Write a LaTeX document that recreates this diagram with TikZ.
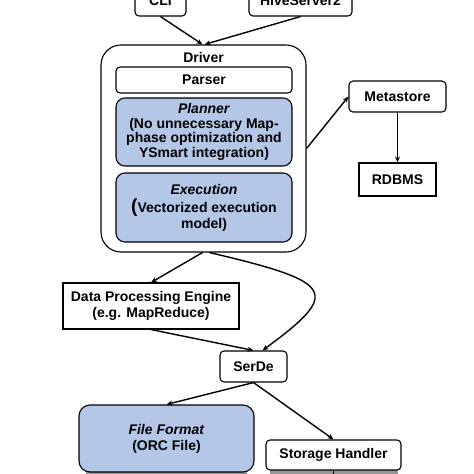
\documentclass[tikz,border=0pt]{standalone}
\usepackage{fontspec}
\setmainfont{Liberation Sans}
\usetikzlibrary{arrows.meta}
\definecolor{boxblue}{RGB}{180,199,231}
\definecolor{shadowgray}{RGB}{150,150,150}
\tikzset{
  box/.style={draw=black, line width=1.1bp, fill=white, rounded corners=4bp, inner sep=0pt, align=center,
    font=\bfseries\fontsize{14bp}{16bp}\selectfont},
  bluebox/.style={box, fill=boxblue, rounded corners=9bp},
  conn/.style={line width=1.4bp, -{Stealth[length=6bp,width=5bp]}},
}
\begin{document}
\begin{tikzpicture}[x=1bp,y=-1bp]
\useasboundingbox (0,0) rectangle (474,474);
% cropped bottom fragments
\fill[shadowgray] (86,471) rectangle (247,474);
\fill[shadowgray] (270,469) rectangle (398,474);
% nodes
\node[box, minimum width=51bp, minimum height=30bp] (cli) at (160.5,1) {CLI};
\node[box, minimum width=103bp, minimum height=30bp] (hs2) at (300.5,1) {HiveServer2};
\node[box, rounded corners=20bp, minimum width=205bp, minimum height=207bp] (driver) at (203.5,148.5) {};
\node[font=\bfseries\fontsize{14bp}{16bp}\selectfont, inner sep=0pt] (drvlabel) at (203.5,57) {Driver};
\node[box, minimum width=176bp, minimum height=26bp] (parser) at (204,80) {Parser};
\node[bluebox, minimum width=176bp, minimum height=68bp, font=\bfseries\fontsize{14bp}{14.8bp}\selectfont] (planner) at (204,132)
  {\textit{Planner}\\(No unnecessary Map-\\phase optimization and\\YSmart integration)};
\node[bluebox, minimum width=176bp, minimum height=69bp] (exec) at (204,207.5)
  {\textit{Execution}\\[2bp]{\fontsize{19bp}{19bp}\selectfont(}Vectorized execution\\model)};
\node[box, minimum width=97bp, minimum height=31bp] (meta) at (397.5,96.5) {Metastore};
\node[box, rounded corners=0pt, minimum width=77bp, minimum height=33bp] (rdbms) at (397.5,179.5) {RDBMS};
\node[box, rounded corners=0pt, minimum width=176bp, minimum height=46bp] (dpe) at (151,306)
  {Data Processing Engine\\(e.g. MapReduce)};
\node[box, minimum width=67bp, minimum height=31bp] (serde) at (253.5,366.5) {SerDe};
\node[bluebox, rounded corners=11bp, minimum width=175bp, minimum height=67bp] (ff) at (166.5,438.5)
  {\textit{File Format}\\(ORC File)};
\node[box, minimum width=135bp, minimum height=30bp] (sh) at (333.5,455) {Storage Handler};
\coordinate (shout) at (333.5,476);
% connectors
\draw[conn] (cli.south) -- ([xshift=-1bp]driver.north);
\draw[conn] (hs2.south) -- ([xshift=1bp]driver.north);
\draw[conn] (driver.east) -- (meta.west);
\draw[conn] (meta.south) -- (rdbms.north);
\draw[conn] ([xshift=-1bp]driver.south) -- (dpe.north);
\draw[conn] ([xshift=6bp]driver.south) .. controls (335,282) and (342,292) .. ([xshift=9bp]serde.north);
\draw[conn] (dpe.south) -- (serde.north);
\draw[conn] (serde.south) -- (ff.north);
\draw[conn] (serde.south) -- (sh.north);
\draw[line width=1.4bp] (sh.south) -- (shout);
\end{tikzpicture}
\end{document}
